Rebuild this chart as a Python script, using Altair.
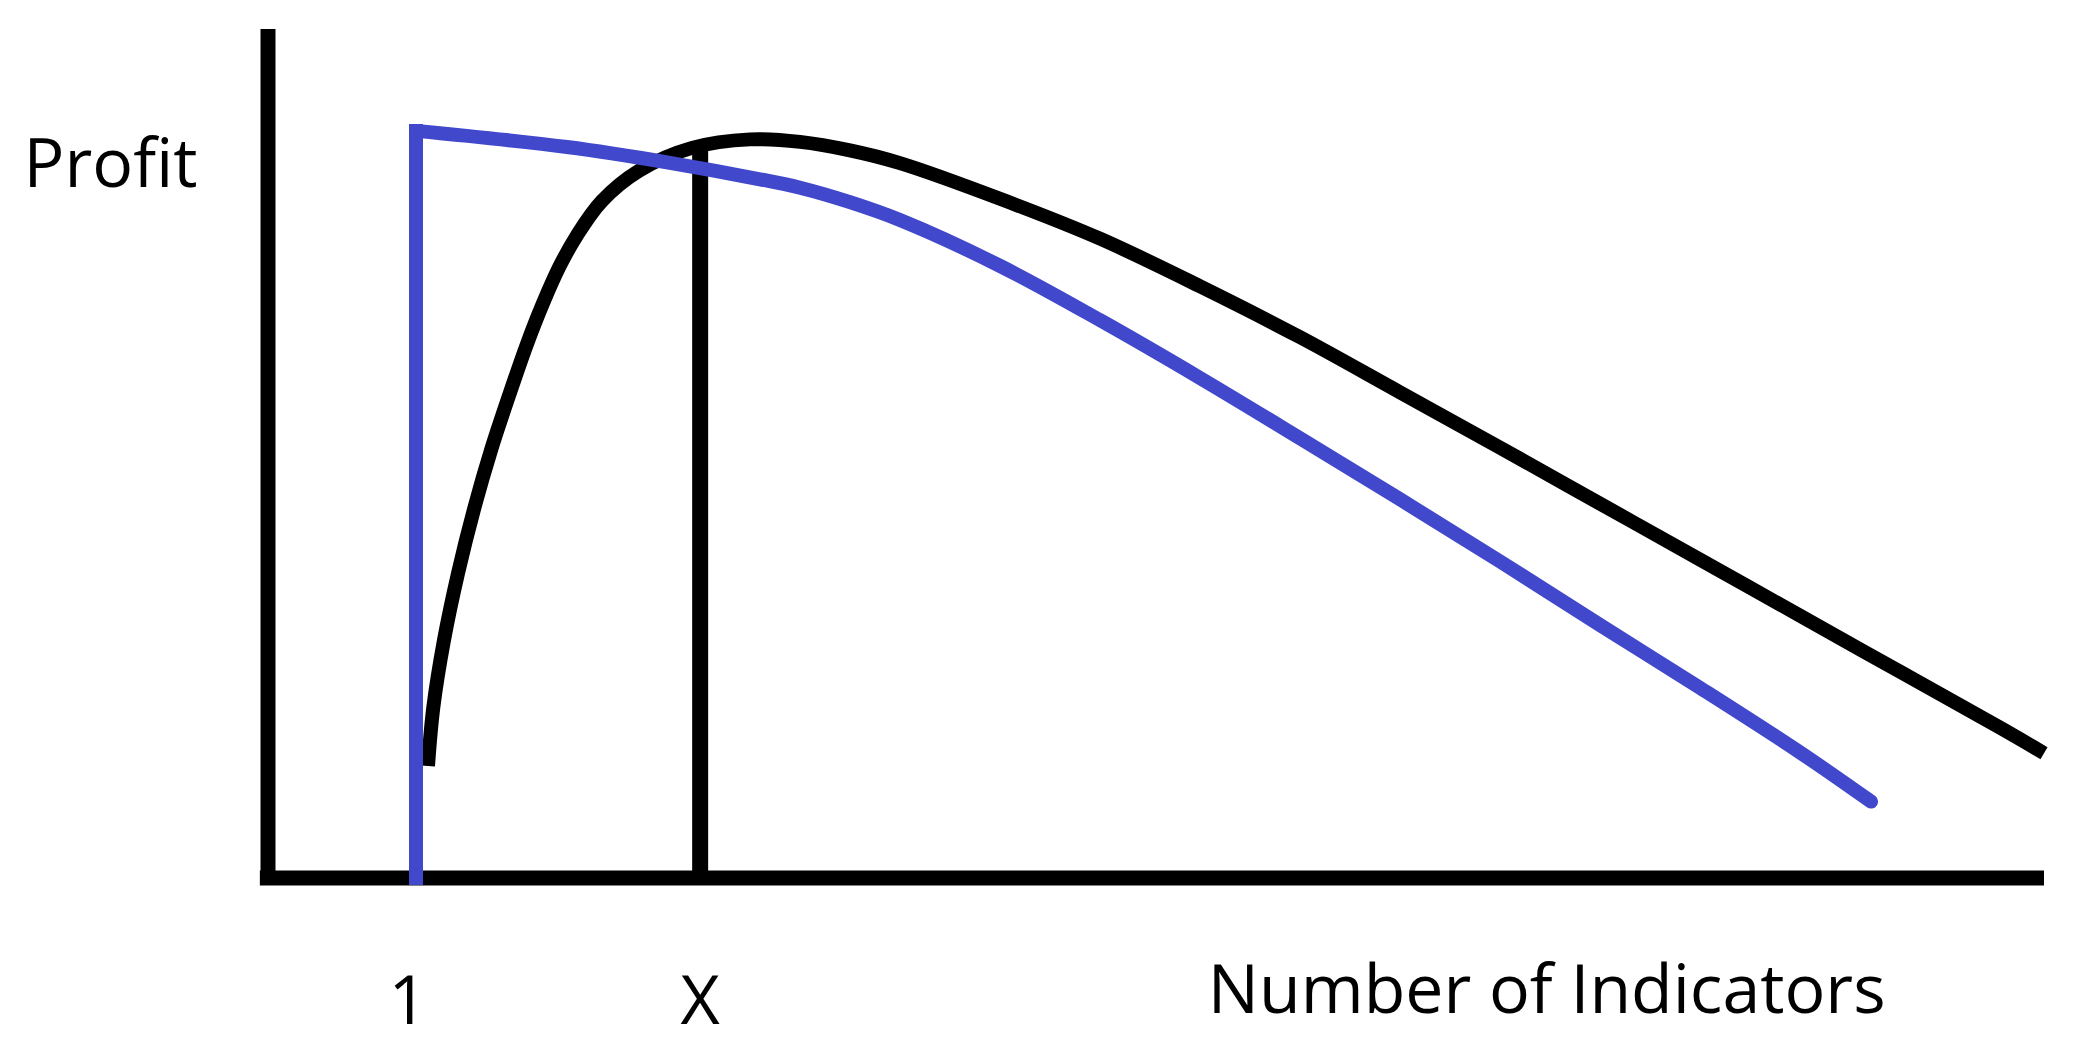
import altair as alt
import pandas as pd

# Black curve: profit vs number of indicators
black_x = [1.081, 1.117, 1.189, 1.284, 1.396, 1.507, 1.634, 1.748, 1.856, 1.969, 2.084,
           2.254, 2.507, 2.865, 3.257, 3.595, 3.932, 4.270, 4.946, 5.622, 6.297, 6.973,
           7.649, 8.324, 9.000, 9.676, 10.351, 11.027, 11.703, 12.0]
black_y = [13.2, 20.1, 28.0, 35.9, 43.7, 50.4, 57.1, 62.8, 67.6, 72.0, 75.6,
           79.7, 83.3, 86.0, 87.0, 86.7, 85.7, 84.2, 80.0, 75.3, 69.7, 63.7,
           57.2, 50.7, 44.1, 37.5, 30.9, 24.3, 17.7, 14.7]

# Blue curve
blue_x = [1.0, 2.020, 2.696, 3.324, 3.595, 3.932, 4.270, 4.946, 5.622, 6.297, 6.973, 7.649,
          8.324, 9.000, 9.676, 10.351, 10.831]
blue_y = [88.0, 86.1, 84.3, 82.3, 81.3, 79.6, 77.5, 72.1, 65.7, 58.9, 51.8, 44.6,
          37.3, 29.8, 22.4, 14.8, 9.0]

# Vertical markers
blue_vline_x = 1.0
x_marker = 2.92
x_marker_top = 86.2

# Labels
label_text = ["Profit", "1", "X", "Number of Indicators"]
label_x = [-1.064, 0.946, 2.92, 8.64]
label_y = [81.4, -17.2, -17.2, -15.9]

X_MAX = 12
Y_MAX = 100

xs = alt.Scale(domain=[0, X_MAX], nice=False, zero=False)
ys = alt.Scale(domain=[0, Y_MAX], nice=False, zero=False)
BLUE = "#4148CC"

axes_df = pd.DataFrame({"x": [0, -0.055], "x2": [0, X_MAX], "y": [-0.6, 0], "y2": [Y_MAX, 0]})
axes = alt.Chart(axes_df).mark_rule(color="black", strokeWidth=15, strokeCap="butt").encode(
    x=alt.X("x:Q", scale=xs, axis=None), x2="x2:Q",
    y=alt.Y("y:Q", scale=ys, axis=None), y2="y2:Q")

black_df = pd.DataFrame({"x": black_x, "y": black_y})
black = alt.Chart(black_df).mark_line(color="black", strokeWidth=14, interpolate="catmull-rom",
                                      strokeCap="butt").encode(
    x=alt.X("x:Q", scale=xs, axis=None), y=alt.Y("y:Q", scale=ys, axis=None))

xm_df = pd.DataFrame({"x": [x_marker], "y": [0], "y2": [x_marker_top]})
xmark = alt.Chart(xm_df).mark_rule(color="black", strokeWidth=16, strokeCap="butt").encode(
    x=alt.X("x:Q", scale=xs, axis=None), y=alt.Y("y:Q", scale=ys, axis=None), y2="y2:Q")

bv_df = pd.DataFrame({"x": [blue_vline_x], "y": [0], "y2": [blue_y[0]]})
bvline = alt.Chart(bv_df).mark_rule(color=BLUE, strokeWidth=14, strokeCap="square").encode(
    x=alt.X("x:Q", scale=xs, axis=None), y=alt.Y("y:Q", scale=ys, axis=None), y2="y2:Q")

blue_df = pd.DataFrame({"x": blue_x, "y": blue_y})
blue = alt.Chart(blue_df).mark_line(color=BLUE, strokeWidth=14, interpolate="catmull-rom",
                                    strokeCap="round").encode(
    x=alt.X("x:Q", scale=xs, axis=None), y=alt.Y("y:Q", scale=ys, axis=None))

lab_df = pd.DataFrame({"label": label_text, "x": label_x, "y": label_y})
labels = alt.Chart(lab_df).mark_text(align="center", baseline="alphabetic", font="Open Sans",
                                     fontSize=68, color="black").encode(
    x=alt.X("x:Q", scale=xs, axis=None), y=alt.Y("y:Q", scale=ys, axis=None), text="label:N")

chart = alt.layer(axes, black, xmark, bvline, blue, labels).properties(
    width=1776, height=849,
    padding={"left": 260, "top": 21, "right": 12, "bottom": 176},
    autosize=alt.AutoSizeParams(type="none"),
    background="white",
).configure_view(stroke=None)

chart.save("out.html", embed_options={"renderer": "svg", "actions": False})
